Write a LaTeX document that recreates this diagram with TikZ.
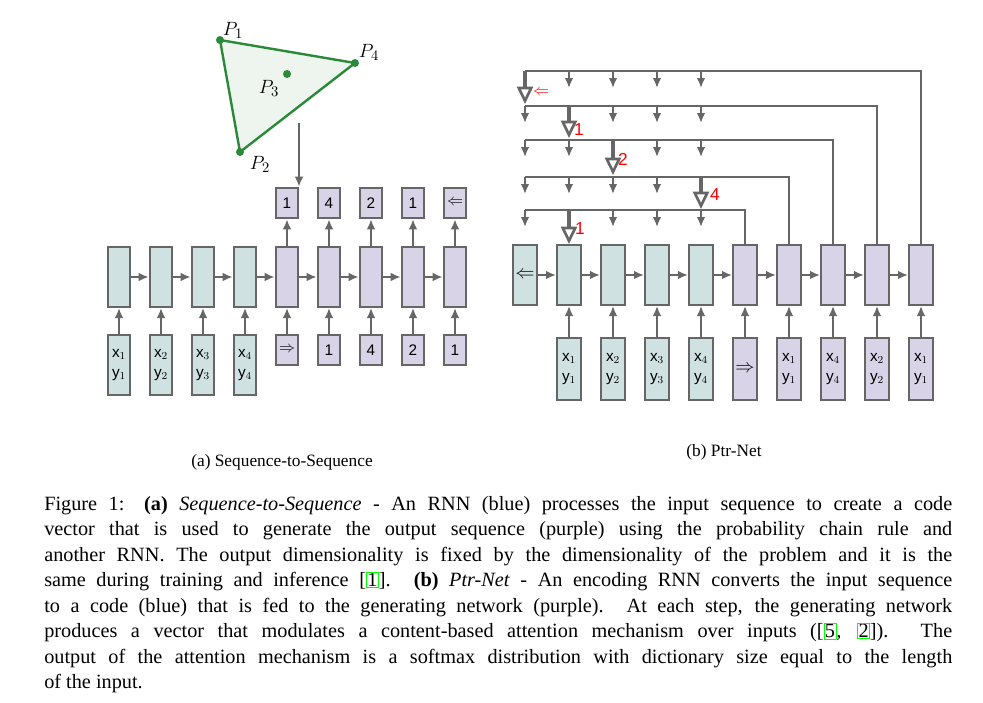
\documentclass[tikz,border=0pt]{standalone}
\usepackage{fontspec}
\setmainfont{Liberation Serif}
\newfontfamily\sff{Liberation Sans}
\usetikzlibrary{arrows.meta}
\definecolor{bfill}{HTML}{D0E1E1}
\definecolor{pfill}{HTML}{D9D3E8}
\definecolor{edge}{HTML}{666666}
\definecolor{grn}{HTML}{2A8A3A}
\definecolor{gfill}{HTML}{EEF5EE}
\newcommand{\gref}[1]{{\setlength{\fboxsep}{0.5pt}\setlength{\fboxrule}{0.5pt}\fcolorbox{green}{white}{#1}}}
\begin{document}
\begin{tikzpicture}[x=0.75pt,y=-0.75pt,
  box/.style={draw=edge,line width=1.5pt,inner sep=0,font=\sff\fontsize{11.5}{12}\selectfont},
  bh/.style={box,fill=bfill,minimum width=17pt,minimum height=45pt},
  ph/.style={box,fill=pfill,minimum width=17pt,minimum height=45pt},
  bi/.style={box,fill=bfill,minimum width=17pt,minimum height=45pt,align=center},
  pi/.style={box,fill=pfill,minimum width=17pt,minimum height=23pt},
  con/.style={draw=edge,line width=1.4pt,-{Latex[length=7.5pt,width=6.5pt]}},
  big/.style={draw=edge,line width=2.6pt,-{Triangle[open,length=13pt,width=12pt,line width=2pt]}},
  lab/.style={text=red,font=\sff\fontsize{13}{13}\selectfont,inner sep=1pt}]
\useasboundingbox (0,0) rectangle (983,703);
% ---- triangle
\coordinate (P1) at (220,40);
\coordinate (P4) at (355,63);
\coordinate (P2) at (240,152);
\fill[gfill] (P1)--(P4)--(P2)--cycle;
\draw[grn,line width=1.8pt] (P1)--(P4)--(P2)--cycle;
\foreach \p in {P1,P4,P2}{\fill[grn] (\p) circle (3pt);}
\node[circle,fill=grn,inner sep=0,minimum size=6pt] (P3) at (287,74) {};
\node[font=\fontsize{15}{15}\selectfont] (l1) at (233,30) {$P_1$};
\node[font=\fontsize{15}{15}\selectfont] (l4) at (369,52) {$P_4$};
\node[font=\fontsize{15}{15}\selectfont] (l2) at (260,164) {$P_2$};
\node[font=\fontsize{15}{15}\selectfont] (l3) at (269,88) {$P_3$};
\coordinate (ta) at (299,123);
% ---- left seq2seq
\foreach \i/\x in {1/119,2/161,3/203,4/245}{
  \node[bh] (h\i) at (\x,277) {};
  \node[bi] (x\i) at (\x,365) {x$_{\i}$\\[3pt]y$_{\i}$};
  \draw[con] (x\i) -- (h\i);
}
\foreach \i/\x/\o/\n in {5/287/1/$\Rightarrow$,6/329/4/1,7/371/2/4,8/413/1/2,9/455/$\Leftarrow$/1}{
  \node[ph] (h\i) at (\x,277) {};
  \node[pi] (o\i) at (\x,203) {\o};
  \node[pi] (x\i) at (\x,350) {\n};
  \draw[con] (x\i) -- (h\i);
  \draw[con] (h\i) -- (o\i);
}
\foreach \a/\b in {1/2,2/3,3/4,4/5,5/6,6/7,7/8,8/9}{\draw[con] (h\a) -- (h\b);}
\draw[con] (ta) -- (o5.north -| ta);
% ---- right ptr-net
\node[bh,minimum width=18pt,font=\sff\fontsize{14}{14}\selectfont] (r0) at (525,275) {$\Leftarrow$};
\foreach \i/\x in {1/569,2/613,3/657,4/701}{
  \node[bh,minimum width=18pt] (r\i) at (\x,275) {};
  \node[bi,minimum width=18pt,minimum height=46pt] (y\i) at (\x,369) {x$_{\i}$\\[3pt]y$_{\i}$};
  \draw[con] (y\i) -- (r\i);
}
\node[ph,minimum width=18pt] (r5) at (745,275) {};
\node[ph,minimum width=18pt,minimum height=46pt,font=\sff\fontsize{14}{14}\selectfont] (y5) at (745,369) {$\Rightarrow$};
\draw[con] (y5) -- (r5);
\foreach \i/\x/\a in {6/789/1,7/833/4,8/877/2,9/921/1}{
  \node[box,fill=pfill,minimum width=18pt,minimum height=45pt] (r\i) at (\x,275) {};
  \node[box,fill=pfill,minimum width=18pt,minimum height=46pt,align=center] (y\i) at (\x,369) {x$_{\a}$\\[3pt]y$_{\a}$};
  \draw[con] (y\i) -- (r\i);
}
\foreach \a/\b in {0/1,1/2,2/3,3/4,4/5,5/6,6/7,7/8,8/9}{\draw[con] (r\a) -- (r\b);}
% attention lines
\foreach \k/\y/\sel in {9/71/0,8/106/1,7/140/2,6/177/4,5/210/1}{
  \coordinate (c\k) at (525,\y);
  \draw[draw=edge,line width=1.4pt] (r\k.north) |- (c\k);
  \foreach \j/\cx in {0/525,1/569,2/613,3/657,4/701}{
    \ifnum\j=\sel\relax\else
      \coordinate (s\k\j) at (\cx,\y);
      \draw[con] (s\k\j) -- ++(0,17);
    \fi
  }
}
\coordinate (b9) at (525,71); \draw[big] (b9) -- ++(0,33);
\coordinate (b8) at (569,106); \draw[big] (b8) -- ++(0,32);
\coordinate (b7) at (613,140); \draw[big] (b7) -- ++(0,35);
\coordinate (b6) at (701,177); \draw[big] (b6) -- ++(0,32);
\draw[big] (r1.north |- c5) -- (r1.north);
\node[lab] (q9) at (541,93) {$\Leftarrow$};
\node[lab] (q8) at (579,130) {1};
\node[lab] (q7) at (623,159) {2};
\node[lab] (q6) at (715,195) {4};
\node[lab] (q5) at (580,229) {1};
% ---- captions
\node[font=\fontsize{13}{14}\selectfont] (ca) at (282,462) {(a) Sequence-to-Sequence};
\node[font=\fontsize{13}{14}\selectfont] (cb) at (724,452) {(b) Ptr-Net};
\node[anchor=north west,inner sep=0,text width=681pt,align=justify,font=\fontsize{15.2}{19.1}\selectfont] (cap) at (44,496) {%
Figure 1: \textbf{(a)} \textit{Sequence-to-Sequence} - An RNN (blue) processes the input sequence to create a code\linebreak vector that is used to generate the output sequence (purple) using the probability chain rule and\linebreak another RNN. The output dimensionality is fixed by the dimensionality of the problem and it is the\linebreak same during training and inference [\gref{1}]. \textbf{(b)} \textit{Ptr-Net} - An encoding RNN converts the input sequence\linebreak to a code (blue) that is fed to the generating network (purple). At each step, the generating network\linebreak produces a vector that modulates a content-based attention mechanism over inputs ([\gref{5}, \gref{2}]).  The\linebreak output of the attention mechanism is a softmax distribution with dictionary size equal to the length\linebreak of the input.};
\end{tikzpicture}
\end{document}
